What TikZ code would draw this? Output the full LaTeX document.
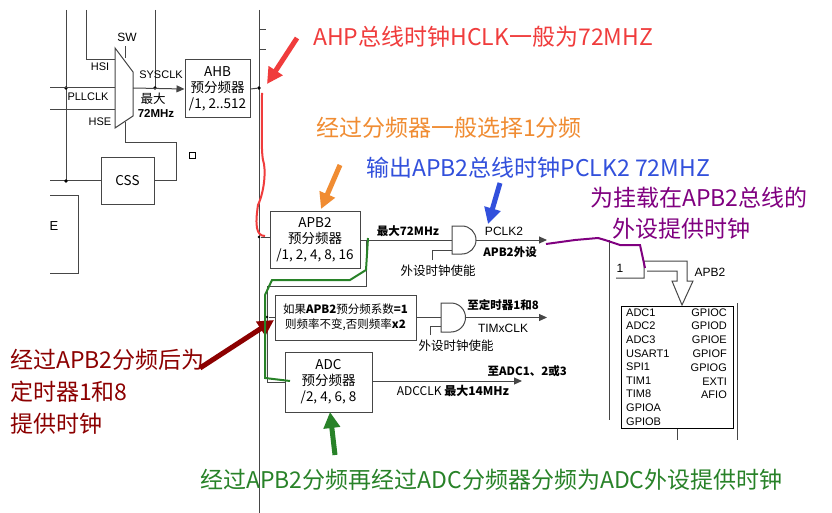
\documentclass[tikz,border=0pt]{standalone}
\usepackage{fontspec}
\setmainfont{Liberation Sans}
\newfontfamily\cjk{Noto Sans CJK SC}
\usetikzlibrary{arrows.meta}
\definecolor{ann}{RGB}{240,60,60}
\definecolor{org}{RGB}{240,140,50}
\definecolor{blu}{RGB}{50,80,220}
\definecolor{pur}{RGB}{128,0,128}
\definecolor{drd}{RGB}{140,0,0}
\definecolor{grn}{RGB}{40,130,40}
\definecolor{ln}{RGB}{70,70,70}
\begin{document}
\begin{tikzpicture}[x=1pt,y=-1pt,
  wire/.style={draw=ln,line width=1pt},
  blk/.style={draw=ln,line width=1pt,fill=white,align=center,font=\cjk\fontsize{13.5}{16}\selectfont,inner sep=0pt},
  lbl/.style={font=\cjk\fontsize{12.5}{14}\selectfont,inner sep=0pt},
  lat/.style={font=\fontsize{11}{13}\selectfont,inner sep=0pt},
  big/.style={font=\cjk\fontsize{23}{26}\selectfont,inner sep=0pt,anchor=west},
  dotc/.style={circle,fill=black,inner sep=1.3pt},
  tip/.style={-{Triangle[length=8pt,width=7pt]}},
  fat/.style={-{Triangle[length=16pt,width=16pt]},line width=5pt}]
\useasboundingbox (0,0) rectangle (832,513);
\fill[white] (0,0) rectangle (832,513);
% left clock tree
\draw[wire] (66,10) -- (66,181);
\draw[wire] (86,10) -- (86,60) -- (115,60);
\draw[wire] (155,10) -- (155,88);
\draw[wire] (50,110) -- (115,110);
\draw[wire] (50,181) -- (101,181);
\node[dotc] (d1) at (66,88) {};
\node[dotc] (d2) at (66,181) {};
\node[dotc] (d3) at (155,88) {};
\draw[wire] (50,88) -- (115,88);
\draw[wire,fill=white] (115,48) -- (133,72) -- (133,116) -- (115,128) -- cycle;
\draw[wire] (125,58) -- (125,46);
\node[lat,font=\fontsize{12}{14}\selectfont] (sw) at (127,37) {SW};
\node[lat] (hsi) at (100,67) {HSI};
\node[lat] (pll) at (88,97) {PLLCLK};
\node[lat] (hse) at (100,122) {HSE};
\node[lat] (sys) at (161,75) {SYSCLK};
\node[lbl] (max1) at (153,99) {最大};
\node[lat,font=\bfseries\fontsize{11.5}{13}\selectfont] (max2) at (156,113) {72MHz};
\node[blk,minimum width=65pt,minimum height=58pt] (ahb) at (217.5,89) {AHB\\预分频器\\/1, 2..512};
\draw[wire,tip] (133,88) -- (ahb.west);
\draw[wire] (125,122) -- (125,143) -- (176,143) -- (176,181) -- (154,181);
\node[blk,minimum width=53pt,minimum height=46pt] (css) at (127.5,181) {CSS};
\draw[black,line width=0.8pt] (189,152) rectangle (195,158);
\draw[wire] (50,196) -- (78,196) -- (78,273) -- (50,273);
\node[lat,font=\fontsize{13}{14}\selectfont] (e) at (54,226) {E};
% bus
\draw[wire] (259,10) -- (259,513);
\draw[wire] (259,30) -- (266,30);
\draw[wire] (259,50) -- (266,50);
\node[dotc] (bd) at (259,88) {};
\draw[wire] (ahb.east) -- (bd);
% APB2
\node[blk,minimum width=90pt,minimum height=57pt] (apb) at (315,239.5) {APB2\\预分频器\\/1, 2, 4, 8, 16};
\node[dotc,inner sep=1pt] (bd2) at (259,237) {};
\draw[wire] (bd2) -- (apb.west |- bd2);
\draw[wire] (apb.east |- 0,240) -- (452,240);
\node[lbl,font=\cjk\bfseries\fontsize{11.5}{13}\selectfont] (m72) at (408,231) {最大72MHz};
\draw[wire,fill=white] (452,226) -- (462,226) arc (-90:90:14) -- (452,254) -- cycle;
\coordinate (g1o) at (476,240);
\coordinate (p1) at (547,240);
\draw[wire,tip] (g1o) -- (p1);
\node[lat,font=\fontsize{12}{14}\selectfont] (pclk) at (504,231) {PCLK2};
\node[lbl,font=\cjk\bfseries\fontsize{11.5}{13}\selectfont] (ap2) at (510,252) {APB2外设};
\draw[wire] (432,260) -- (432,250) -- (452,250);
\node[lbl] (en1) at (438,271) {外设时钟使能};
% timer
\draw[wire] (366,240) -- (366,286) -- (267,286) -- (267,382) -- (285,382);
\node[dotc,inner sep=1pt] (td) at (267,317) {};
\node[blk,minimum width=141pt,minimum height=45pt,font=\cjk\fontsize{11.5}{15}\selectfont] (tim) at (345.5,317.5) {如果\textbf{APB2}预分频系数\textbf{=1}\\则频率不变,否则频率\textbf{x2}};
\draw[wire] (td) -- (tim.west |- td);
\draw[wire] (tim.east) -- (441,317.5);
\draw[wire,fill=white] (441,303) -- (451,303) arc (-90:90:14.5) -- (441,332) -- cycle;
\draw[wire,tip] (466,317.5) -- (547,317.5);
\node[lbl,font=\cjk\bfseries\fontsize{11.5}{13}\selectfont] (t18) at (503,305) {至定时器1和8};
\node[lat,font=\fontsize{12}{14}\selectfont] (tx) at (503,328) {TIMxCLK};
\draw[wire] (430,335) -- (430,326) -- (441,326);
\node[lbl] (en2) at (456,346) {外设时钟使能};
% ADC
\node[blk,minimum width=87pt,minimum height=60pt] (adc) at (328.5,382) {ADC\\预分频器\\/2, 4, 6, 8};
\draw[wire,tip] (adc.east |- 0,381) -- (522,381);
\node[lbl,font=\cjk\bfseries\fontsize{11.5}{13}\selectfont,anchor=east] (a123) at (567,371) {至ADC1、2或3};
\node[lbl,font=\cjk\fontsize{12}{14}\selectfont] (adcclk) at (453,391) {ADCCLK\ \textbf{最大14MHz}};
% right peripheral block
\draw[wire] (609,240) -- (609,420);
\draw[wire] (737,303) -- (737,440);
\draw[wire,fill=white] (616,278) -- (644,278) -- (644,261) -- (687,261) -- (687,281) -- (693,281) -- (682,305) -- (672,281) -- (677,281) -- (677,271) -- (647,271);
\node[lat,font=\fontsize{12}{14}\selectfont] (one) at (620,268) {1};
\node[lat,font=\fontsize{12}{14}\selectfont] (apb2l) at (710,272) {APB2};
\node[draw=black,line width=1pt,minimum width=112pt,minimum height=122pt,inner sep=0pt] (per) at (677,367) {};
\draw[wire] (per.south) -- (677,440);
\foreach \t [count=\i] in {ADC1,ADC2,ADC3,USART1,SPI1,TIM1,TIM8,GPIOA,GPIOB}
  \node[lat,anchor=west] at (626,299+\i*13.6) {\t};
\foreach \t [count=\i] in {GPIOC,GPIOD,GPIOE,GPIOF,GPIOG,EXTI,AFIO}
  \node[lat,anchor=east] at (727,298.5+\i*13.8) {\t};
% annotations
\node[big,text=ann] (t1) at (313,37) {AHP总线时钟HCLK一般为72MHZ};
\draw[ann,fat] (297,38) -- (267,84);
\draw[ann,line width=2pt] (262,93) .. controls (262,120) and (261,150) .. (263,160) .. controls (266,168) and (265,190) .. (258,205) .. controls (255,225) and (256,236) .. (265,236);
\node[big,text=org] (t2) at (316,128) {经过分频器一般选择1分频};
\draw[org,fat] (340,165) -- (321,209);
\node[big,text=blu] (t3) at (366,168) {输出APB2总线时钟PCLK2 72MHZ};
\draw[blu,fat] (500,183) -- (488,224);
\node[big,text=pur] (t4) at (590,198) {为挂载在APB2总线的};
\node[big,text=pur] (t4b) at (612,229) {外设提供时钟};
\draw[pur,line width=2pt] (546,244) -- (575,240) -- (598,238) -- (605,240) -- (620,245) -- (640,245) -- (645,268);
\node[big,text=drd] (t5) at (10,360) {经过APB2分频后为};
\node[big,text=drd] (t5b) at (10,392) {定时器1和8};
\node[big,text=drd] (t5c) at (10,424) {提供时钟};
\draw[drd,fat] (200,368) -- (274,320);
\draw[grn,line width=2pt] (368,238) -- (366,270) -- (350,280) -- (272,280) -- (265,295) -- (265,378) -- (290,381);
\draw[grn,fat] (335,455) -- (330,412);
\node[big,text=grn] (t6) at (200,480) {经过APB2分频再经过ADC分频器分频为ADC外设提供时钟};
\end{tikzpicture}
\end{document}
